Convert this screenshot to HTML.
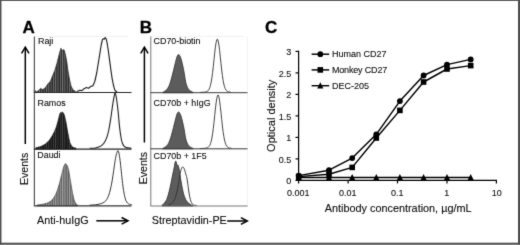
<!DOCTYPE html>
<html lang="en"><head><meta charset="utf-8"><title>Figure</title>
<style>html,body{margin:0;padding:0;background:#fff;}body{width:520px;height:245px;overflow:hidden;}svg{display:block;}</style>
</head><body>
<svg width="520" height="245" viewBox="0 0 520 245" font-family="'Liberation Sans', Arial, Helvetica, sans-serif">
<defs>
<pattern id="st1" width="2.3" height="4" patternUnits="userSpaceOnUse"><rect width="2.3" height="4" fill="#242424"/><rect x="0.2" width="0.75" height="4" fill="#8a8a8a"/></pattern>
<pattern id="st2" width="2.3" height="4" patternUnits="userSpaceOnUse"><rect width="2.3" height="4" fill="#121212"/><rect x="0.2" width="0.65" height="4" fill="#555"/></pattern>
<pattern id="st3" width="2.3" height="4" patternUnits="userSpaceOnUse"><rect width="2.3" height="4" fill="#5a5a5a"/><rect x="0.2" width="0.8" height="4" fill="#b8b8b8"/></pattern>
<filter id="bl" x="0" y="0" width="520" height="245" filterUnits="userSpaceOnUse"><feConvolveMatrix order="3" kernelMatrix="0.0113 0.0838 0.0113 0.0838 0.6193 0.0838 0.0113 0.0838 0.0113" edgeMode="duplicate" preserveAlpha="false"/></filter>
</defs>
<rect width="520" height="245" fill="#fff"/>
<g filter="url(#bl)">
<rect x="0" y="244" width="520" height="1" fill="#b0b0b0"/>
<rect x="0" y="0" width="520" height="1" fill="#5a5a5a"/>
<rect x="0" y="242.7" width="520" height="1.8" fill="#505050"/>
<rect x="0" y="0" width="1.45" height="244.5" fill="#505050"/>
<rect x="518" y="0" width="2" height="244.5" fill="#505050"/>
<g font-weight="bold" font-size="17px" fill="#000" stroke="#000" stroke-width="0.3">
<text x="22.5" y="33.2">A</text>
<text x="139.7" y="33.1">B</text>
<text x="265.1" y="33.2">C</text>
</g>
<g stroke-linejoin="round" stroke-linecap="round">
<path d="M34.6 89.8L35.8 91.6L36.8 91.8L38.5 90.5L40.7 88.4L42.5 89.5L44.5 88.6L46.5 86.0L48.6 83.0L50.5 81.2L52.5 76.0L54.8 70.5L56.9 63.5L58.8 56.0L60.2 50.5L61.0 48.3L62.4 51.2L63.5 49.6L64.3 50.2L65.7 56.0L66.8 62.0L67.8 69.5L69.2 78.0L71.0 86.0L72.8 89.5L75.5 91.6L75.5 92.5L34.6 92.5Z" fill="url(#st1)" stroke="#222" stroke-width="0.7"/>
<path d="M36.0 147.8L41.0 146.5L45.2 144.2L49.0 140.8L52.0 136.2L54.5 131.5L56.4 127.0L58.2 120.5L59.8 114.0L60.8 112.4L61.5 113.2L62.2 112.0L63.2 112.8L64.3 115.0L65.8 121.5L67.6 131.6L68.8 138.0L69.9 142.8L71.5 146.0L73.5 147.6L76.0 148.2L76.0 149.1L36.0 149.1Z" fill="url(#st2)" stroke="#111" stroke-width="0.7"/>
<path d="M37.4 205.0L43.0 204.2L47.5 203.0L50.5 201.3L53.0 199.0L55.5 195.0L57.5 190.0L59.3 184.0L60.9 177.7L62.4 171.5L63.8 166.5L64.8 164.3L65.4 163.6L66.5 164.6L67.6 166.2L68.8 171.0L69.9 177.7L71.3 186.0L72.6 193.4L74.0 199.5L75.5 203.2L77.7 205.0L77.7 205.8L37.4 205.8Z" fill="url(#st3)" stroke="#4a4a4a" stroke-width="0.7"/>
<path d="M77.0 91.6L80.0 90.2L82.0 90.6L84.0 88.8L86.4 87.5L88.5 88.3L90.5 86.6L92.9 85.8L94.8 81.5L96.7 73.0L98.4 62.5L100.0 52.6L101.3 44.5L102.4 39.7L103.5 38.6L104.3 39.2L105.2 37.2L106.2 39.0L107.0 42.3L108.3 50.5L109.6 60.3L110.9 70.0L112.1 78.3L113.4 85.0L114.7 89.8L116.8 92.0" fill="none" stroke="#222" stroke-width="1.15"/>
<path d="M90.0 148.3C90.9 148.2 93.7 148.3 95.4 148.0C97.1 147.7 98.7 147.2 100.0 146.6C101.3 146.0 102.2 145.1 103.1 144.2C104.0 143.3 104.5 142.2 105.2 141.0C105.9 139.8 106.4 138.6 107.0 136.8C107.6 135.0 108.2 132.6 108.8 130.0C109.3 127.4 109.8 124.3 110.3 121.4C110.8 118.5 111.2 115.5 111.6 112.5C112.0 109.5 112.5 106.1 112.9 103.4C113.3 100.7 113.7 98.2 114.1 96.5C114.5 94.8 114.8 92.8 115.2 93.0C115.6 93.2 116.0 95.4 116.4 98.0C116.8 100.6 117.4 105.1 117.8 108.6C118.2 112.1 118.5 115.6 118.8 119.0C119.1 122.4 119.4 125.9 119.8 129.1C120.2 132.3 120.7 135.6 121.1 138.0C121.5 140.4 121.9 141.9 122.4 143.3C122.9 144.7 123.6 145.7 124.2 146.4C124.8 147.1 125.2 147.3 126.3 147.6C127.4 147.9 130.2 148.1 131.0 148.2" fill="none" stroke="#222" stroke-width="1.1"/>
<path d="M90.0 205.2C90.9 205.1 93.7 205.0 95.4 204.8C97.2 204.6 99.0 204.3 100.5 203.8C102.0 203.3 103.4 202.8 104.4 202.0C105.5 201.2 106.1 200.5 106.8 199.3C107.5 198.2 108.2 196.8 108.8 195.1C109.4 193.4 110.0 191.3 110.5 189.0C111.0 186.7 111.6 184.1 112.1 181.0C112.6 177.9 113.2 173.9 113.7 170.5C114.2 167.1 114.7 163.2 115.2 160.4C115.7 157.6 116.1 155.1 116.6 153.5C117.1 151.9 117.6 150.4 118.0 150.6C118.4 150.8 118.8 152.4 119.2 154.5C119.6 156.6 120.0 159.7 120.4 163.0C120.8 166.3 121.2 170.7 121.6 174.5C122.0 178.3 122.5 182.8 122.9 186.1C123.4 189.4 123.8 192.1 124.3 194.5C124.8 196.9 125.3 198.9 125.8 200.3C126.3 201.7 126.9 202.3 127.5 203.0C128.1 203.7 128.7 203.9 129.4 204.2C130.1 204.5 131.2 204.7 131.5 204.8" fill="none" stroke="#333" stroke-width="1.0"/>
</g>
<path d="M34.4 36.4H128.5" stroke="#ececec" stroke-width="0.8" fill="none"/>
<path d="M34.4 36.4V205.8" stroke="#555" stroke-width="1.2" fill="none"/>
<path d="M33.9 92.5H131.5" stroke="#262626" stroke-width="1.2" fill="none"/>
<path d="M33.9 149.1H131.5" stroke="#262626" stroke-width="1.2" fill="none"/>
<path d="M33.9 205.8H131.5" stroke="#303030" stroke-width="1.2" fill="none"/>
<g stroke-linejoin="round">
<path d="M162.7 92.4C163.3 92.0 165.1 91.3 166.2 90.1C167.3 89.0 168.2 87.9 169.2 85.6C170.2 83.2 171.2 79.5 172.1 76.1C173.0 72.7 174.0 68.4 174.8 65.1C175.6 61.8 176.4 58.2 177.1 56.4C177.8 54.6 178.3 54.6 178.7 54.5C179.1 54.4 179.2 55.0 179.6 55.6C180.0 56.3 180.4 56.6 180.9 58.3C181.4 60.0 182.2 63.3 182.8 65.9C183.4 68.4 183.7 70.5 184.3 73.5C184.8 76.4 185.3 81.0 186.1 83.7C186.9 86.4 187.7 88.3 188.9 89.7C190.1 91.2 192.5 92.0 193.2 92.4L193.2 92.7L162.7 92.7Z" fill="#5c5c5c" stroke="#2a2a2a" stroke-width="0.8"/>
<path d="M200.0 92.4L200.7 92.4L201.4 92.3L202.1 92.3L202.8 92.3L203.5 92.2L204.2 92.2L204.9 92.1L205.6 91.9L206.3 91.7L207.0 91.4L207.7 91.0L208.4 90.3L209.1 89.2L209.8 87.6L210.5 85.2L211.2 82.0L211.9 77.8L212.6 72.5L213.3 66.4L214.0 59.8L214.7 53.1L215.4 47.1L216.1 42.5L216.8 39.7L217.5 39.2L218.2 41.0L218.9 44.9L219.6 50.4L220.3 56.9L221.0 63.6L221.7 70.0L222.4 75.6L223.1 80.3L223.8 84.0L224.5 86.7L225.2 88.6L225.9 89.9L226.6 90.7L227.3 91.3L228.0 91.6L228.7 91.9L229.4 92.0L230.1 92.1L230.8 92.2" fill="none" stroke="#3a3a3a" stroke-width="0.95"/>
<path d="M162.7 148.5C163.3 148.1 165.1 147.4 166.2 146.3C167.3 145.2 168.2 144.2 169.2 141.9C170.2 139.7 171.2 136.1 172.1 132.8C173.0 129.5 174.0 125.4 174.8 122.2C175.6 119.1 176.4 115.5 177.1 113.8C177.8 112.1 178.3 112.1 178.7 112.0C179.1 111.9 179.2 112.5 179.6 113.1C180.0 113.7 180.4 114.0 180.9 115.7C181.4 117.3 182.2 120.5 182.8 123.0C183.4 125.4 183.7 127.4 184.3 130.2C184.8 133.1 185.3 137.5 186.1 140.1C186.9 142.7 187.7 144.5 188.9 145.9C190.1 147.3 192.5 148.1 193.2 148.5L193.2 148.8L162.7 148.8Z" fill="#5c5c5c" stroke="#2a2a2a" stroke-width="0.8"/>
<path d="M200.0 148.5L200.7 148.5L201.4 148.5L202.1 148.4L202.8 148.4L203.5 148.4L204.2 148.3L204.9 148.3L205.6 148.2L206.3 148.0L207.0 147.8L207.7 147.5L208.4 147.1L209.1 146.4L209.8 145.3L210.5 143.6L211.2 141.3L211.9 138.0L212.6 133.8L213.3 128.5L214.0 122.4L214.7 115.7L215.4 109.0L216.1 103.0L216.8 98.3L217.5 95.5L218.2 95.0L218.9 96.8L219.6 100.8L220.3 106.3L221.0 112.8L221.7 119.5L222.4 126.0L223.1 131.6L223.8 136.3L224.5 140.0L225.2 142.7L225.9 144.6L226.6 146.0L227.3 146.8L228.0 147.4L228.7 147.7L229.4 148.0L230.1 148.1L230.8 148.2L231.5 148.3" fill="none" stroke="#3a3a3a" stroke-width="0.95"/>
<path d="M162.0 205.3C162.3 205.1 162.9 204.8 163.7 203.8C164.5 202.8 165.8 201.4 166.7 199.4C167.6 197.4 168.3 194.7 169.0 192.0C169.7 189.3 170.3 186.3 170.9 183.5C171.5 180.7 172.0 177.8 172.6 175.0C173.2 172.2 173.9 169.0 174.3 166.8C174.7 164.6 174.9 162.9 175.2 162.0C175.5 161.1 175.7 160.9 175.9 161.2C176.2 161.5 176.4 162.9 176.7 163.6C176.9 164.3 177.2 165.3 177.4 165.6C177.7 165.9 177.9 164.6 178.2 165.4C178.5 166.2 179.0 168.4 179.4 170.7C179.8 173.0 180.2 176.4 180.7 179.2C181.2 182.0 181.6 184.9 182.2 187.7C182.8 190.5 183.5 193.9 184.3 196.2C185.1 198.5 185.9 200.2 187.0 201.6C188.1 203.0 189.7 204.1 190.7 204.7C191.7 205.3 192.6 205.3 193.0 205.4L193.0 206.0L162.0 206.0Z" fill="#5c5c5c" stroke="#2a2a2a" stroke-width="0.8"/>
<path d="M168.0 205.2C168.6 204.9 170.5 204.6 171.6 203.6C172.7 202.6 173.8 201.3 174.7 199.4C175.6 197.5 176.2 194.7 176.9 192.0C177.6 189.3 178.1 186.3 178.6 183.5C179.1 180.7 179.4 177.3 179.8 175.0C180.2 172.7 180.7 171.0 181.1 169.7C181.5 168.4 181.7 167.9 182.0 167.4C182.3 166.9 182.6 166.8 182.9 166.9C183.2 167.0 183.6 167.6 183.9 168.2C184.2 168.8 184.6 169.6 184.9 170.7C185.2 171.8 185.6 173.4 186.0 174.8C186.4 176.2 186.7 177.0 187.1 179.2C187.5 181.3 187.9 184.9 188.3 187.7C188.7 190.5 189.1 193.8 189.6 196.2C190.1 198.6 190.6 200.9 191.3 202.4C192.0 203.9 192.9 204.5 193.8 205.0C194.8 205.5 196.5 205.4 197.0 205.5" fill="none" stroke="#333" stroke-width="0.95"/>
</g>
<path d="M150.8 36.4H243.6" stroke="#efefef" stroke-width="0.8" fill="none"/>
<path d="M247.6 36.4V206.0" stroke="#ececec" stroke-width="0.8" fill="none"/>
<path d="M150.8 36.4V206.0" stroke="#7a7a7a" stroke-width="1" fill="none"/>
<path d="M150.4 92.7H247.6" stroke="#3a3a3a" stroke-width="1" fill="none"/>
<path d="M150.4 148.8H247.6" stroke="#3a3a3a" stroke-width="1" fill="none"/>
<path d="M150.4 206.0H247.6" stroke="#777" stroke-width="1" fill="none"/>
<g font-size="8.9px" fill="#0a0a0a" stroke="#0a0a0a" stroke-width="0.08">
<text x="38.0" y="44.3">Raji</text>
<text x="37.5" y="105.6">Ramos</text>
<text x="37.3" y="158.2">Daudi</text>
</g>
<g font-size="8.9px" fill="#0a0a0a" stroke="#0a0a0a" stroke-width="0.08">
<text x="153.6" y="43.7">CD70-biotin</text>
<text x="153.6" y="105.9">CD70b + hIgG</text>
<text x="153.6" y="158.9">CD70b + 1F5</text>
</g>
<path d="M25.3 144.0V47.4" stroke="#000" stroke-width="1.5" fill="none"/><path d="M21.6 53.4L25.3 47.2L29.0 53.4" stroke="#000" stroke-width="1.5" fill="none" stroke-linejoin="miter"/>
<path d="M144.4 142.5V47.4" stroke="#000" stroke-width="1.5" fill="none"/><path d="M140.7 53.4L144.4 47.2L148.1 53.4" stroke="#000" stroke-width="1.5" fill="none" stroke-linejoin="miter"/>
<path d="M96.3 220.8H127.8" stroke="#000" stroke-width="1.5" fill="none"/><path d="M121.6 217.5L128.0 220.8L121.6 224.1" stroke="#000" stroke-width="1.5" fill="none" stroke-linejoin="miter"/>
<path d="M227.2 221.0H247.1" stroke="#000" stroke-width="1.5" fill="none"/><path d="M240.9 217.7L247.3 221.0L240.9 224.3" stroke="#000" stroke-width="1.5" fill="none" stroke-linejoin="miter"/>
<g font-size="11px" fill="#0a0a0a" stroke="#050505" stroke-width="0.08">
<text font-size="10.6px" transform="translate(28.2 185.1) rotate(-90)">Events</text>
<text font-size="10.6px" transform="translate(147.1 184.3) rotate(-90)">Events</text>
<text font-size="10.8px" x="37.0" y="223.7">Anti-huIgG</text>
<text font-size="10.8px" x="151.8" y="224.0">Streptavidin-PE</text>
</g>
<g stroke="#000" stroke-width="1.45" fill="none" stroke-linejoin="round">
<path d="M298.7 175.6L329.0 170.2L352.2 158.1L376.3 134.3L399.9 101.1L423.6 75.5L447.0 64.6L470.7 59.4"/>
<path d="M298.7 176.6L329.0 174.2L352.2 167.4L376.3 138.0L399.9 110.4L423.6 82.0L447.0 69.0L470.7 65.6"/>
<path d="M298.7 177.5L329.0 177.5L352.2 177.5L376.3 177.5L399.9 177.5L423.6 177.5L447.0 177.5L470.7 177.5"/>
</g>
<g fill="#000">
<circle cx="298.7" cy="175.6" r="2.9"/>
<circle cx="329.0" cy="170.2" r="2.9"/>
<circle cx="352.2" cy="158.1" r="2.9"/>
<circle cx="376.3" cy="134.3" r="2.9"/>
<circle cx="399.9" cy="101.1" r="2.9"/>
<circle cx="423.6" cy="75.5" r="2.9"/>
<circle cx="447.0" cy="64.6" r="2.9"/>
<circle cx="470.7" cy="59.4" r="2.9"/>
<rect x="295.9" y="173.8" width="5.6" height="5.6"/>
<rect x="326.2" y="171.4" width="5.6" height="5.6"/>
<rect x="349.4" y="164.6" width="5.6" height="5.6"/>
<rect x="373.5" y="135.2" width="5.6" height="5.6"/>
<rect x="397.1" y="107.6" width="5.6" height="5.6"/>
<rect x="420.8" y="79.2" width="5.6" height="5.6"/>
<rect x="444.2" y="66.2" width="5.6" height="5.6"/>
<rect x="467.9" y="62.8" width="5.6" height="5.6"/>
<path d="M298.7 174.1L301.8 180.3L295.6 180.3Z"/>
<path d="M329.0 174.1L332.1 180.3L325.9 180.3Z"/>
<path d="M352.2 174.1L355.3 180.3L349.1 180.3Z"/>
<path d="M376.3 174.1L379.4 180.3L373.2 180.3Z"/>
<path d="M399.9 174.1L403.0 180.3L396.8 180.3Z"/>
<path d="M423.6 174.1L426.7 180.3L420.5 180.3Z"/>
<path d="M447.0 174.1L450.1 180.3L443.9 180.3Z"/>
<path d="M470.7 174.1L473.8 180.3L467.6 180.3Z"/>
</g>
<g stroke="#000" stroke-width="1.2" fill="none">
<path d="M298.6 50.8V181.0"/>
<path d="M298.0 180.4H497.0"/>
<path d="M295.5 180.4H298.6"/>
<path d="M295.5 158.9H298.6"/>
<path d="M295.5 137.4H298.6"/>
<path d="M295.5 115.9H298.6"/>
<path d="M295.5 94.4H298.6"/>
<path d="M295.5 72.9H298.6"/>
<path d="M295.5 51.4H298.6"/>
<path d="M298.6 180.4V183.4"/>
<path d="M348.1 180.4V183.4"/>
<path d="M397.5 180.4V183.4"/>
<path d="M447.0 180.4V183.4"/>
<path d="M496.4 180.4V183.4"/>
</g>
<g font-size="9px" fill="#0a0a0a" stroke="#0a0a0a" stroke-width="0.08" text-anchor="end">
<text x="291.3" y="184.0">0</text>
<text x="291.3" y="162.5">0.5</text>
<text x="291.3" y="141.0">1</text>
<text x="291.3" y="119.5">1.5</text>
<text x="291.3" y="98.0">2</text>
<text x="291.3" y="76.5">2.5</text>
<text x="291.3" y="55.0">3</text>
</g>
<g font-size="9px" fill="#0a0a0a" stroke="#0a0a0a" stroke-width="0.08" text-anchor="middle">
<text x="298.3" y="196.2">0.001</text>
<text x="347.8" y="196.2">0.01</text>
<text x="397.2" y="196.2">0.1</text>
<text x="446.7" y="196.2">1</text>
<text x="496.8" y="196.2">10</text>
</g>
<g font-size="11px" fill="#0a0a0a" stroke="#050505" stroke-width="0.08">
<text transform="translate(274.8 151.9) rotate(-90)">Optical density</text>
<text font-size="10.85px" x="324.8" y="212.3">Antibody concentration, µg/mL</text>
</g>
<g stroke="#000" stroke-width="1.45" fill="none"><path d="M311.6 54.2H329.2"/><path d="M311.6 69.9H329.2"/><path d="M311.6 85.7H329.2"/></g>
<g fill="#000"><circle cx="320.3" cy="54.2" r="2.9"/><rect x="317.5" y="67.1" width="5.6" height="5.6"/><path d="M320.3 82.2L323.4 88.4L317.2 88.4Z"/></g>
<g font-size="9px" fill="#0a0a0a" stroke="#0a0a0a" stroke-width="0.08">
<text x="331.9" y="57.4">Human CD27</text>
<text x="331.9" y="72.9" letter-spacing="-0.16">Monkey CD27</text>
<text x="332.0" y="88.8">DEC-205</text>
</g>
</g>
</svg>
</body></html>
